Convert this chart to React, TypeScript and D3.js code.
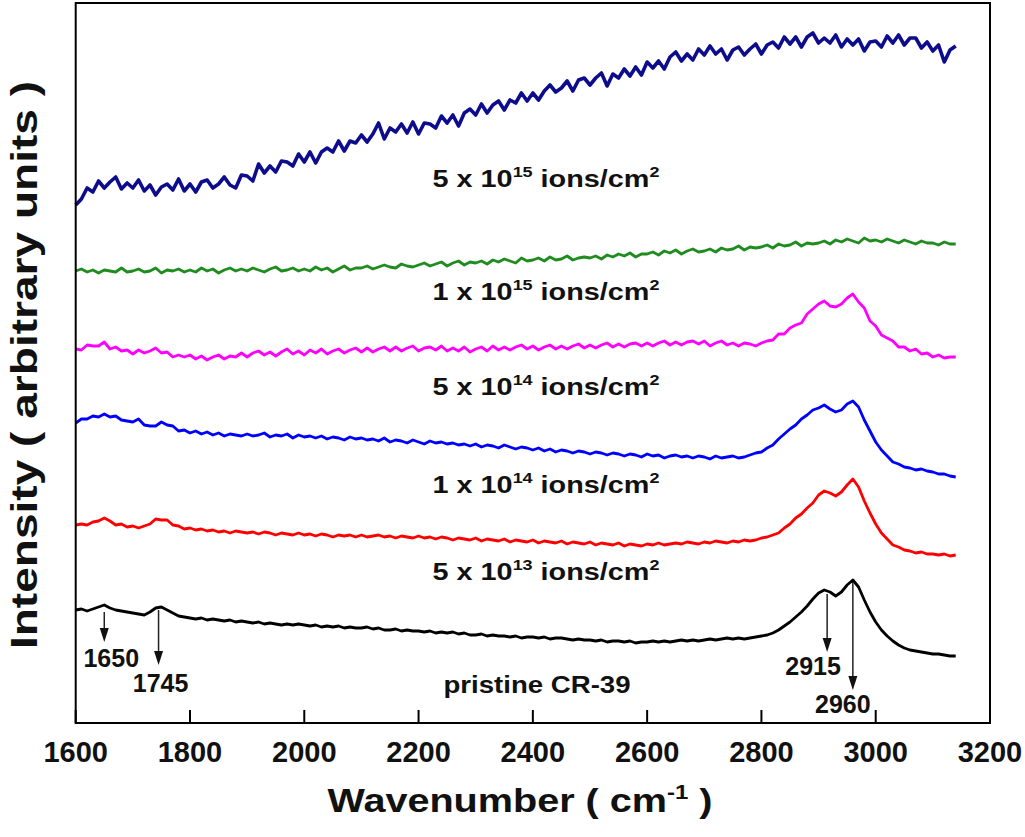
import * as d3 from "d3";

// Raman spectra of CR-39 at increasing ion fluence, sampled every 10 cm-1
const WAVENUMBERS = d3.range(1600, 3150, 10);

const PRISTINE = [
  113, 114, 112, 114, 116, 118, 115, 113, 112, 111,
  110, 109, 108, 111, 115, 116, 113, 110, 107, 106,
  105, 104, 105, 103, 104, 103, 102, 103, 101, 102,
  101, 100, 101, 99, 100, 99, 98, 99, 98, 99,
  98, 97, 98, 96, 97, 96, 97, 95, 96, 95,
  95, 96, 94, 95, 93, 93, 94, 92, 93, 92,
  92, 91, 92, 90, 91, 90, 91, 89, 90, 88,
  88, 89, 87, 88, 87, 87, 86, 87, 85, 86,
  86, 85, 86, 84, 85, 85, 84, 83, 84, 83,
  83, 82, 83, 81, 82, 82, 81, 82, 80, 81,
  81, 82, 81, 82, 81, 82, 83, 82, 83, 82,
  83, 84, 83, 84, 85, 84, 85, 84, 85, 86,
  87, 88, 90, 93, 97, 101, 106, 111, 117, 124,
  130, 133, 131, 127, 131, 138, 143, 136, 123, 111,
  101, 93, 87, 82, 78, 75, 73, 72, 71, 70,
  69, 69, 68, 67, 67,
];

const DOSE_5E13 = [
  198, 199, 198, 201, 202, 205, 202, 198, 199, 196,
  197, 195, 197, 199, 204, 203, 203, 198, 197, 194,
  195, 193, 194, 192, 193, 191, 192, 190, 192, 191,
  190, 191, 189, 191, 190, 188, 190, 189, 188, 190,
  188, 189, 187, 189, 188, 186, 188, 187, 188, 186,
  188, 186, 187, 188, 186, 187, 185, 187, 186, 185,
  187, 185, 186, 184, 186, 185, 183, 185, 184, 183,
  185, 182, 184, 183, 182, 184, 181, 183, 182, 181,
  183, 180, 182, 181, 180, 182, 179, 181, 180, 179,
  181, 178, 180, 179, 178, 180, 177, 179, 178, 177,
  179, 178, 180, 178, 179, 180, 179, 181, 180, 179,
  181, 180, 182, 181, 180, 182, 181, 183, 182, 183,
  185, 186, 188, 190, 195, 199, 205, 209, 215, 220,
  228, 232, 230, 227, 231, 238, 244, 236, 222, 210,
  199, 190, 184, 178, 176, 173, 172, 170, 171, 169,
  169, 168, 169, 167, 168,
];

const DOSE_1E14 = [
  300, 304, 304, 307, 306, 309, 306, 307, 303, 302,
  301, 304, 298, 297, 297, 301, 298, 297, 292, 293,
  290, 292, 289, 291, 288, 290, 287, 289, 288, 287,
  289, 287, 288, 290, 286, 288, 287, 289, 285, 288,
  286, 287, 285, 287, 284, 286, 285, 283, 286, 284,
  285, 283, 284, 282, 285, 281, 283, 282, 280, 283,
  281, 279, 282, 280, 281, 279, 280, 278, 279, 277,
  279, 276, 278, 277, 275, 278, 276, 274, 276, 275,
  273, 275, 272, 274, 271, 273, 272, 270, 272, 271,
  269, 271, 270, 268, 270, 269, 267, 269, 268, 266,
  269, 267, 268, 265, 267, 268, 266, 267, 265, 267,
  266, 264, 267, 265, 266, 267, 265, 266, 268, 270,
  271, 275, 278, 284, 289, 294, 298, 304, 308, 313,
  315, 318, 314, 311, 313, 319, 322, 316, 303, 292,
  281, 273, 267, 261, 259, 256, 255, 253, 254, 252,
  251, 249, 249, 247, 246,
];

const DOSE_5E14 = [
  374, 373, 378, 377, 377, 381, 374, 376, 372, 373,
  369, 373, 370, 372, 375, 370, 371, 366, 368, 366,
  368, 364, 367, 363, 366, 368, 364, 367, 366, 370,
  366, 370, 372, 368, 371, 367, 371, 374, 369, 372,
  368, 373, 370, 374, 369, 372, 374, 370, 373, 375,
  371, 375, 371, 374, 376, 372, 376, 372, 375, 377,
  372, 375, 376, 373, 377, 372, 375, 372, 376, 371,
  374, 376, 372, 377, 373, 376, 373, 376, 378, 374,
  377, 373, 376, 378, 374, 377, 374, 377, 379, 375,
  378, 375, 378, 380, 376, 379, 376, 379, 380, 377,
  380, 377, 380, 382, 378, 381, 378, 381, 382, 379,
  382, 377, 380, 382, 378, 380, 377, 380, 379, 377,
  380, 382, 383, 389, 389, 395, 398, 400, 409, 414,
  419, 422, 417, 416, 419, 425, 429, 421, 415, 402,
  397, 388, 385, 382, 376, 376, 372, 374, 369, 370,
  366, 368, 365, 366, 366,
];

const DOSE_1E15 = [
  452, 454, 451, 453, 450, 453, 452, 451, 455, 451,
  452, 454, 451, 452, 455, 450, 453, 452, 454, 451,
  453, 451, 455, 452, 454, 450, 453, 455, 452, 454,
  452, 455, 453, 451, 454, 456, 452, 453, 455, 452,
  454, 452, 456, 453, 455, 451, 454, 457, 453, 455,
  455, 457, 454, 456, 458, 456, 455, 459, 457, 456,
  458, 460, 457, 459, 461, 457, 460, 462, 458, 461,
  460, 462, 459, 463, 461, 464, 462, 460, 465, 462,
  463, 465, 462, 466, 463, 464, 467, 463, 465, 466,
  465, 467, 464, 468, 466, 469, 467, 470, 466, 469,
  469, 471, 468, 472, 470, 473, 469, 472, 474, 471,
  472, 474, 471, 475, 473, 474, 477, 473, 476, 475,
  476, 478, 475, 479, 477, 478, 481, 477, 480, 479,
  480, 482, 479, 483, 481, 484, 482, 480, 485, 482,
  483, 481, 484, 482, 480, 483, 481, 479, 482, 480,
  480, 478, 481, 479, 479,
];

const DOSE_5E15 = [
  518, 524, 535, 531, 542, 535, 541, 546, 534, 540,
  535, 543, 532, 538, 528, 536, 539, 533, 544, 532,
  539, 531, 541, 543, 535, 539, 546, 538, 535, 548,
  547, 542, 559, 550, 557, 551, 562, 561, 557, 569,
  561, 571, 560, 571, 575, 571, 582, 572, 582, 580,
  588, 581, 589, 600, 584, 595, 591, 599, 590, 601,
  589, 600, 599, 595, 607, 600, 608, 597, 610, 614,
  608, 619, 610, 618, 622, 613, 623, 620, 630, 622,
  630, 623, 632, 638, 631, 635, 642, 632, 643, 645,
  638, 645, 650, 637, 649, 645, 654, 647, 656, 648,
  661, 655, 662, 654, 666, 671, 662, 669, 663, 674,
  668, 677, 669, 674, 663, 673, 676, 668, 674, 679,
  669, 678, 681, 675, 686, 679, 686, 676, 686, 690,
  680, 685, 680, 688, 676, 684, 678, 684, 672, 681,
  682, 676, 687, 680, 688, 678, 685, 685, 675, 681,
  672, 678, 661, 673, 677,
];

const X_TICKS = [1600, 1800, 2000, 2200, 2400, 2600, 2800, 3000, 3200];
const DOSE_MANTISSA = ["5", "1", "5", "1", "5"];
const DOSE_EXPONENT = ["15", "15", "14", "14", "13"];
const PEAKS = [1650, 1745, 2915, 2960];

const FONT = "'Liberation Sans', Arial, Helvetica, sans-serif";

const W = 1025, H = 837;
const M = { left: 75.7, right: 990, top: 3, bottom: 723 };

const x = d3.scaleLinear().domain([1600, 3200]).range([M.left, M.right]);
const y = d3.scaleLinear().domain([0, 720]).range([M.bottom, M.top]);
const lineOf = (vals: number[]) =>
  d3.line<number>().x((_d, i) => x(WAVENUMBERS[i])).y((d) => y(d))(vals) ?? "";

const TRACES = [
  { values: DOSE_5E15, color: "#0c0c8c", width: 3.6 },
  { values: DOSE_1E15, color: "#1e8c1e", width: 2.8 },
  { values: DOSE_5E14, color: "#ff00ff", width: 2.8 },
  { values: DOSE_1E14, color: "#0000ff", width: 2.8 },
  { values: DOSE_5E13, color: "#ff0000", width: 2.8 },
  { values: PRISTINE, color: "#000000", width: 2.8 },
];

// label baselines, top to bottom (px)
const DOSE_BASELINES = [187, 300, 395, 493, 580];

// arrow geometry for each marked peak: start, tip, text baseline, text dx
const ARROW_LAYOUT = [
  { y0: 612, y1: 642, ty: 667, dx: 7 },
  { y0: 610, y1: 665, ty: 692, dx: 2 },
  { y0: 594, y1: 652, ty: 675, dx: -14 },
  { y0: 582, y1: 690, ty: 713, dx: -10 },
];

function DoseLabel({ mant, exp, baseline }: { mant: string; exp: string; baseline: number }) {
  return (
    <g transform={`translate(546,${baseline}) scale(1.2,1)`}>
      <text textAnchor="middle" fontFamily={FONT} fontWeight="bold" fontSize={24} fill="#111">
        {`${mant} x 10`}
        <tspan dy={-10} fontSize={15}>{exp}</tspan>
        <tspan dy={10}>{" ions/cm"}</tspan>
        <tspan dy={-10} fontSize={15}>2</tspan>
      </text>
    </g>
  );
}

export default function App() {
  return (
    <svg width={W} height={H} style={{ position: "absolute", left: 0, top: 0, background: "#fff" }}>
      {TRACES.map((t, i) => (
        <path key={i} d={lineOf(t.values)} fill="none" stroke={t.color} strokeWidth={t.width} strokeLinejoin="round" />
      ))}

      {/* frame and inward ticks */}
      <rect x={M.left} y={M.top} width={M.right - M.left} height={M.bottom - M.top} fill="none" stroke="#000" strokeWidth={2} />
      {X_TICKS.map((t) => (
        <g key={t}>
          <line x1={x(t)} x2={x(t)} y1={M.bottom} y2={M.bottom - 13} stroke="#000" strokeWidth={2} />
          <text x={x(t)} y={762} textAnchor="middle" fontFamily={FONT} fontWeight="bold" fontSize={29} fill="#111">
            {t}
          </text>
        </g>
      ))}

      {DOSE_MANTISSA.map((m, i) => (
        <DoseLabel key={i} mant={m} exp={DOSE_EXPONENT[i]} baseline={DOSE_BASELINES[i]} />
      ))}
      <g transform="translate(537,693) scale(1.15,1)">
        <text textAnchor="middle" fontFamily={FONT} fontWeight="bold" fontSize={24} fill="#111">
          pristine CR-39
        </text>
      </g>

      {/* marked peaks on the pristine spectrum */}
      {PEAKS.map((p, i) => {
        const a = ARROW_LAYOUT[i];
        const px = x(p);
        return (
          <g key={p}>
            <line x1={px} x2={px} y1={a.y0} y2={a.y1 - 12} stroke="#222" strokeWidth={1.5} />
            <path d={`M${px - 4.5},${a.y1 - 14}L${px + 4.5},${a.y1 - 14}L${px},${a.y1}Z`} fill="#111" />
            <text x={px + a.dx} y={a.ty} textAnchor="middle" fontFamily={FONT} fontWeight="bold" fontSize={25} fill="#111">
              {p}
            </text>
          </g>
        );
      })}

      {/* axis titles */}
      <g transform="translate(520,812) scale(1.2,1)">
        <text textAnchor="middle" fontFamily={FONT} fontWeight="bold" fontSize={33} fill="#111">
          {"Wavenumber ( cm"}
          <tspan dy={-13} fontSize={20}>-1</tspan>
          <tspan dy={13}>{" )"}</tspan>
        </text>
      </g>
      <g transform="translate(37,365) rotate(-90) scale(1.28,1)">
        <text textAnchor="middle" fontFamily={FONT} fontWeight="bold" fontSize={36} fill="#111">
          Intensity ( arbitrary units )
        </text>
      </g>
    </svg>
  );
}
